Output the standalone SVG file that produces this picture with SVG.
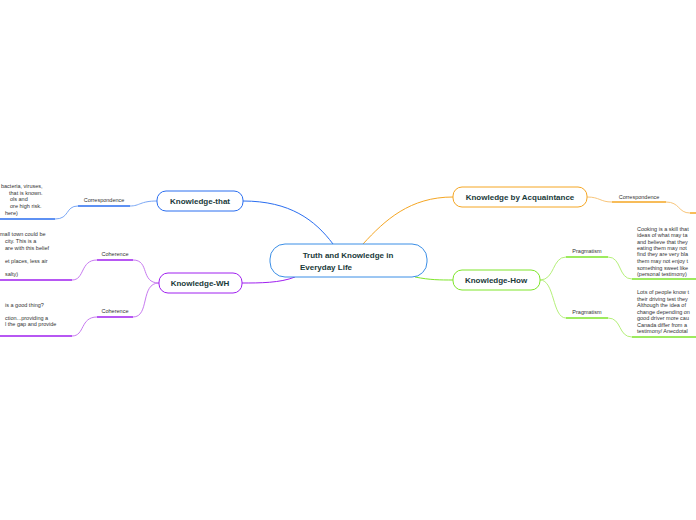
<svg xmlns="http://www.w3.org/2000/svg" width="696" height="520" viewBox="0 0 696 520">
<style>
text{font-family:"Liberation Sans",Arial,sans-serif;fill:#333}
.n{font-size:8px;font-weight:bold;fill:#1a3a3a;text-anchor:middle}
.s{font-size:5.5px;text-anchor:middle}
.t{font-size:5.5px}
path{fill:none}
</style>
<rect width="696" height="520" fill="#fff"/>
<g id="connectors" stroke-width="1">
<path d="M333,244 C315,220 290,201 243,201" stroke="#2a6ef0"/>
<path d="M295,277 C280,283 260,283 242,283" stroke="#a020f0"/>
<path d="M363,244 C385,220 410,197 453,197" stroke="#f5a623"/>
<path d="M415,277 C430,280 440,280 453,280" stroke="#7ee52a"/>
<path d="M157,201 C140,201 140,206 130,206" stroke="#7aa7f5"/>
<path d="M78,206 C65,206 70,219 55,219" stroke="#7aa7f5"/>
<path d="M159,283 C140,283 150,260 133,260 M159,283 C140,283 150,317 133,317" stroke="#c77af0"/>
<path d="M97,260 C80,260 85,280 72,280 M97,317 C80,317 85,336 72,336" stroke="#c77af0"/>
<path d="M587,197 C600,197 600,202 612,202 M666,202 C680,202 678,213 690,213" stroke="#f8c57a"/>
<path d="M540,280 C555,280 552,257 566,257 M540,280 C555,280 552,318 566,318" stroke="#b5f07a"/>
<path d="M608,257 C622,257 618,279 632,279 M608,318 C622,318 618,337 632,337" stroke="#b5f07a"/>
<g stroke-width="1.5">
<path d="M78,206H130M0,219H55" stroke="#2a6ef0"/>
<path d="M97,260H133M0,280H72M97,317H133M0,336H72" stroke="#a020f0"/>
<path d="M612,202H666M690,213H696" stroke="#f5a623"/>
<path d="M566,257H608M632,279H696M566,318H608M632,337H696" stroke="#7ee52a"/>
</g>
</g>
<g id="center"><rect x="270" y="244" width="157" height="33" rx="15" fill="#fff" stroke="#3a8ee6"/>
<text class="n" x="348" y="258" font-size="9">Truth and Knowledge in</text><text class="n" x="326" y="270" font-size="9">Everyday Life</text></g>
<g id="k-that"><rect x="157" y="191" width="86" height="20" rx="9" fill="#fff" stroke="#2a6ef0"/><text class="n" x="200" y="204">Knowledge-that</text></g>
<g id="k-wh"><rect x="159" y="273" width="83" height="20" rx="9" fill="#fff" stroke="#a020f0"/><text class="n" x="200" y="286">Knowledge-WH</text></g>
<g id="k-acq"><rect x="453" y="187" width="134" height="20" rx="9" fill="#fff" stroke="#f5a623"/><text class="n" x="520" y="200">Knowledge by Acquaintance</text></g>
<g id="k-how"><rect x="453" y="270" width="87" height="20" rx="9" fill="#fff" stroke="#7ee52a"/><text class="n" x="496" y="283">Knowledge-How</text></g>
<g id="labels">
<text class="s" x="104" y="202">Correspondence</text>
<text class="s" x="115" y="256">Coherence</text>
<text class="s" x="115" y="313">Coherence</text>
<text class="s" x="639" y="199">Correspondence</text>
<text class="s" x="587" y="253">Pragmatism</text>
<text class="s" x="587" y="314">Pragmatism</text>
</g>
<g id="texts" class="t">
<text class="t" x="1" y="188">bacteria, viruses,</text>
<text class="t" x="9" y="195">that is known.</text>
<text class="t" x="10" y="201">ols and</text>
<text class="t" x="10" y="208">ore high risk.</text>
<text class="t" x="5" y="215">here)</text>
<text class="t" x="0" y="236">mall town could be</text>
<text class="t" x="5" y="243">city. This is a</text>
<text class="t" x="5" y="250">are with this belief</text>
<text class="t" x="5" y="263">et places, less air</text>
<text class="t" x="5" y="276">salty)</text>
<text class="t" x="5" y="307">is a good thing?</text>
<text class="t" x="5" y="320">ction...providing a</text>
<text class="t" x="5" y="326">l the gap and provide</text>
<text class="t" x="637" y="231">Cooking is a skill that</text>
<text class="t" x="637" y="237">ideas of what may ta</text>
<text class="t" x="637" y="244">and believe that they</text>
<text class="t" x="637" y="250">eating them may not</text>
<text class="t" x="637" y="256">find they are very bla</text>
<text class="t" x="637" y="263">them may not enjoy t</text>
<text class="t" x="637" y="270">something sweet like</text>
<text class="t" x="637" y="276">(personal testimony)</text>
<text class="t" x="637" y="294">Lots of people know t</text>
<text class="t" x="637" y="301">their driving test they</text>
<text class="t" x="637" y="307">Although the idea of</text>
<text class="t" x="637" y="314">change depending on</text>
<text class="t" x="637" y="320">good driver more cau</text>
<text class="t" x="637" y="327">Canada differ from a</text>
<text class="t" x="637" y="333">testimony/ Anecdotal</text>
</g>
</svg>
